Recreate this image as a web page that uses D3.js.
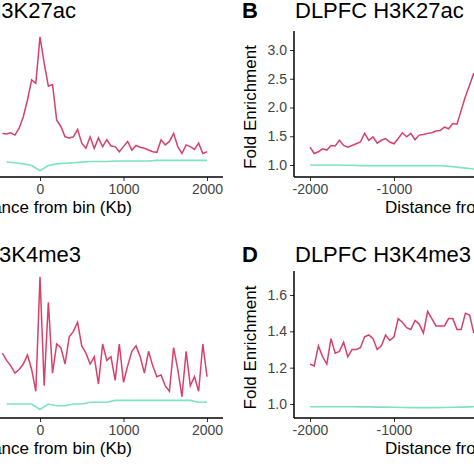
<!doctype html>
<html>
<head>
<meta charset="utf-8">
<script src="https://cdnjs.cloudflare.com/ajax/libs/d3/7.8.5/d3.min.js"></script>
<style>
  body { margin: 0; background: #fff; }
  text { font-family: "Liberation Sans", Arial, sans-serif; }
</style>
</head>
<body>
<div id="chart"></div>
<script>
  // x positions (Kb)
  const xLeft = d3.range(-450, 2001, 50);     // visible part of panels A, C
  const xLeftG = d3.range(-400, 2001, 100);
  const xRight = d3.range(-2000, -49, 50);    // visible part of panels B, D
  const xRightG = d3.range(-2000, 1, 100);

  const redA = [1.55,1.54,1.56,1.52,1.64,1.84,2.13,2.48,2.42,3.23,2.77,2.37,2.40,1.78,1.67,1.49,1.47,1.49,1.62,1.38,
                1.29,1.49,1.29,1.47,1.32,1.44,1.33,1.32,1.23,1.32,1.41,1.26,1.34,1.31,1.29,1.26,1.23,1.22,1.44,1.35,
                1.41,1.55,1.32,1.20,1.35,1.32,1.27,1.38,1.20,1.23];
  const greenA = [1.05,1.04,1.02,0.99,0.90,0.99,1.02,1.03,1.04,1.05,1.06,1.06,1.06,1.07,1.07,1.07,1.07,1.07,1.08,1.08,
                  1.08,1.08,1.08,1.08,1.08];

  const redB = [1.31,1.20,1.23,1.28,1.26,1.34,1.33,1.43,1.34,1.31,1.34,1.37,1.40,1.55,1.43,1.49,1.38,1.43,1.46,1.40,
                1.37,1.46,1.56,1.49,1.55,1.44,1.52,1.53,1.55,1.56,1.59,1.60,1.66,1.63,1.72,1.71,1.95,2.19,2.39,2.60];
  const greenB = [1.00,1.00,1.00,1.00,0.995,0.995,0.99,0.99,0.99,0.99,0.99,0.99,0.99,0.99,0.99,0.99,0.985,0.97,0.955,0.94,0.92];

  const redC = [1.28,1.24,1.21,1.17,1.19,1.22,1.27,1.19,1.07,1.70,1.10,1.56,1.17,1.33,1.31,1.22,1.37,1.40,1.45,1.32,
                1.28,1.22,1.26,1.11,1.33,1.24,1.26,1.13,1.33,1.12,1.21,1.29,1.32,1.26,1.17,1.29,1.21,1.15,1.16,1.10,
                1.07,1.31,1.19,1.04,1.29,1.10,1.15,1.07,1.33,1.15];
  const greenC = [1.00,1.00,1.00,1.00,0.97,1.00,0.99,0.99,1.00,1.00,1.01,1.01,1.01,1.02,1.02,1.02,1.02,1.02,1.02,1.02,
                  1.02,1.02,1.02,1.01,1.01];

  const redD = [1.22,1.21,1.32,1.26,1.22,1.36,1.28,1.29,1.34,1.26,1.30,1.30,1.31,1.37,1.38,1.36,1.30,1.32,1.38,1.35,
                1.37,1.47,1.45,1.42,1.41,1.46,1.44,1.39,1.51,1.47,1.43,1.43,1.43,1.47,1.47,1.41,1.41,1.50,1.49,1.39];
  const greenD = [0.985,0.985,0.985,0.985,0.985,0.985,0.984,0.984,0.983,0.983,0.982,0.981,0.98,0.98,0.98,0.98,0.981,0.982,0.983,0.984,0.985];

  const ticksB = [1.0, 1.5, 2.0, 2.5, 3.0];
  const ticksD = [1.0, 1.2, 1.4, 1.6];

  const RED = '#d8406a', GREEN = '#7fe3bf';
  const FONT = '"Liberation Sans", Arial, sans-serif';

  const svg = d3.select('#chart').append('svg')
    .attr('width', 474).attr('height', 474);

  function panel(o) {
    const x = d3.scaleLinear().domain(o.xDom).range(o.xRange);
    const y = d3.scaleLinear().domain(o.yDom).range(o.yRange);
    const g = svg.append('g');
    const clipId = 'clip' + o.id;
    g.append('clipPath').attr('id', clipId).append('rect')
      .attr('x', o.plotL).attr('y', o.top).attr('width', o.plotR - o.plotL).attr('height', o.axisY - o.top);
    const line = (xs) => d3.line().x((d, i) => x(xs[i])).y(d => y(d));
    const plot = g.append('g').attr('clip-path', `url(#${clipId})`);
    plot.append('path').datum(o.green).attr('d', line(o.xg))
      .attr('fill', 'none').attr('stroke', GREEN).attr('stroke-width', 1.6);
    plot.append('path').datum(o.red).attr('d', line(o.xr))
      .attr('fill', 'none').attr('stroke', RED).attr('stroke-width', 1.5);

    // x axis
    const xa = g.append('g').attr('transform', `translate(0,${o.axisY})`)
      .call(d3.axisBottom(x).tickValues(o.xTicks).tickFormat(d => String(d)).tickSize(4).tickPadding(3));
    xa.select('.domain').remove();
    xa.append('line').attr('x1', o.plotL).attr('x2', o.plotR).attr('stroke', '#000').attr('stroke-width', 1.5);
    xa.selectAll('.tick text').attr('font-size', 14).attr('fill', '#444').style('font-family', FONT);
    xa.selectAll('.tick line').attr('stroke', '#333');

    if (o.yTicks) {
      const ya = g.append('g').attr('transform', `translate(${o.plotL},0)`)
        .call(d3.axisLeft(y).tickValues(o.yTicks).tickFormat(d3.format('.1f')).tickSize(4).tickPadding(3));
      ya.select('.domain').remove();
      ya.append('line').attr('y1', o.top).attr('y2', o.axisY).attr('stroke', '#000').attr('stroke-width', 1.5);
      ya.selectAll('.tick text').attr('font-size', 14).attr('fill', '#444').style('font-family', FONT);
      ya.selectAll('.tick line').attr('stroke', '#333');
      g.append('text').attr('transform', `translate(256,${(o.top + o.axisY) / 2 + 3}) rotate(-90)`)
        .attr('text-anchor', 'middle').attr('font-size', 17).text('Fold Enrichment');
    }

    // titles
    if (o.letter) {
      g.append('text').attr('x', 242).attr('y', o.titleY).attr('font-size', 22).attr('font-weight', 'bold').text(o.letter);
      g.append('text').attr('x', 295).attr('y', o.titleY).attr('font-size', 22).text(o.title);
      g.append('text').attr('x', 385).attr('y', o.axisY + 36).attr('font-size', 17).text('Distance from bin (Kb)');
    } else {
      g.append('text').attr('x', o.titleEnd).attr('y', o.titleY).attr('text-anchor', 'end').attr('font-size', 22).text(o.title);
      g.append('text').attr('x', 132).attr('y', o.axisY + 36).attr('text-anchor', 'end').attr('font-size', 17).text('Distance from bin (Kb)');
    }
  }

  // A
  panel({ id: 'A', title: 'DLPFC H3K27ac', titleEnd: 76, titleY: 18,
    xDom: [0, 2000], xRange: [40, 207], yDom: [1, 3], yRange: [165, 50],
    plotL: 0, plotR: 223, top: 25, axisY: 177, xTicks: [0, 1000, 2000],
    xr: xLeft, red: redA, xg: xLeftG, green: greenA });
  // B
  panel({ id: 'B', letter: 'B', title: 'DLPFC H3K27ac', titleY: 18,
    xDom: [-2000, -1000], xRange: [310, 394], yDom: [1, 3], yRange: [165, 50],
    plotL: 294, plotR: 474, top: 31, axisY: 177, xTicks: [-2000, -1000], yTicks: ticksB,
    xr: xRight, red: redB, xg: xRightG, green: greenB });
  // C
  panel({ id: 'C', title: 'DLPFC H3K4me3', titleEnd: 81, titleY: 262,
    xDom: [0, 2000], xRange: [40, 207], yDom: [1, 1.6], yRange: [404, 295],
    plotL: 0, plotR: 223, top: 270, axisY: 418, xTicks: [0, 1000, 2000],
    xr: xLeft, red: redC, xg: xLeftG, green: greenC });
  // D
  panel({ id: 'D', letter: 'D', title: 'DLPFC H3K4me3', titleY: 262,
    xDom: [-2000, -1000], xRange: [310, 394], yDom: [1, 1.6], yRange: [404, 295],
    plotL: 294, plotR: 474, top: 271, axisY: 418, xTicks: [-2000, -1000], yTicks: ticksD,
    xr: xRight, red: redD, xg: xRightG, green: greenD });
</script>
</body>
</html>
